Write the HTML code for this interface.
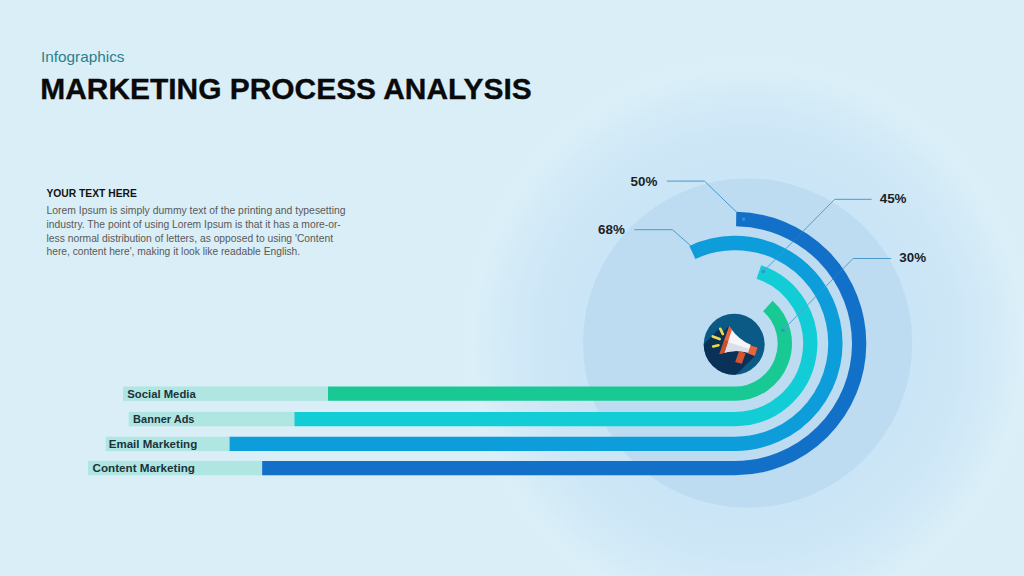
<!DOCTYPE html>
<html lang="en">
<head>
<meta charset="utf-8">
<title>Marketing Process Analysis</title>
<style>
  html, body { margin: 0; padding: 0; }
  body { width: 1024px; height: 576px; overflow: hidden; background: #d9eef6; font-family: "Liberation Sans", sans-serif; }
  svg { display: block; position: absolute; left: 0; top: 0; }
  text { font-family: "Liberation Sans", sans-serif; }
</style>
</head>
<body>
<svg width="1024" height="576" viewBox="0 0 1024 576">
  <defs>
    <radialGradient id="glow" gradientUnits="userSpaceOnUse" cx="748" cy="343" r="295">
      <stop offset="0" stop-color="#c8e3f6"/>
      <stop offset="0.56" stop-color="#cae5f6"/>
      <stop offset="0.72" stop-color="#cee7f7"/>
      <stop offset="0.84" stop-color="#d4ebf7"/>
      <stop offset="0.93" stop-color="#daeff8"/>
      <stop offset="1" stop-color="#d9eef6"/>
    </radialGradient>
    <clipPath id="iconclip"><circle cx="734.2" cy="344.3" r="30.5"/></clipPath>
  </defs>

  <!-- background -->
  <rect x="0" y="0" width="1024" height="576" fill="#d9eef6"/>
  <rect x="0" y="0" width="1024" height="576" fill="url(#glow)"/>
  <circle cx="747.65" cy="343.05" r="164.65" fill="#bddcf1"/>

  <!-- headings -->
  <text x="41" y="61.7" font-size="15" fill="#2b7f8c" textLength="83.5" lengthAdjust="spacingAndGlyphs">Infographics</text>
  <text x="40.3" y="99.3" font-size="29.7" font-weight="700" fill="#0a0a0a" stroke="#0a0a0a" stroke-width="0.35" textLength="491.5" lengthAdjust="spacingAndGlyphs">MARKETING PROCESS ANALYSIS</text>

  <!-- text block -->
  <text x="46.5" y="196.8" font-size="11.2" font-weight="700" fill="#111" textLength="90.3" lengthAdjust="spacingAndGlyphs">YOUR TEXT HERE</text>
  <g font-size="10.4" fill="#595959">
    <text x="46.5" y="214" textLength="299" lengthAdjust="spacingAndGlyphs">Lorem Ipsum is simply dummy text of the printing and typesetting</text>
    <text x="46.5" y="228" textLength="294.3" lengthAdjust="spacingAndGlyphs">industry. The point of using Lorem Ipsum is that it has a more-or-</text>
    <text x="46.5" y="241.6" textLength="286.5" lengthAdjust="spacingAndGlyphs">less normal distribution of letters, as opposed to using 'Content</text>
    <text x="46.5" y="255.2" textLength="253.6" lengthAdjust="spacingAndGlyphs">here, content here', making it look like readable English.</text>
  </g>

  <!-- label backgrounds -->
  <g fill="#b0e6e2">
    <rect x="123" y="386.5" width="206" height="14.4"/>
    <rect x="128.7" y="411.9" width="167" height="14.4"/>
    <rect x="105.8" y="436.7" width="125" height="14.4"/>
    <rect x="88" y="460.9" width="175" height="14.4"/>
  </g>

  <!-- bars + arcs (inner two) -->
  <g fill="none" stroke-width="14.3">
    <path d="M328.00 393.70H734.65A50.15 50.15 0 0 0 767.88 305.99" stroke="#19c994"/>
    <path d="M294.50 419.15H734.65A75.60 75.60 0 0 0 758.89 271.94" stroke="#13cdd6"/>
  </g>
  <!-- leader lines that run behind the outer arcs -->
  <g fill="none" stroke="#4b9bcc" stroke-width="1">
    <path d="M871.6 199.3H834.7L763.4 271.4"/>
    <path d="M891.2 258.5H853L782.9 330.2"/>
  </g>
  <g fill="#2f86cf" fill-opacity="0.75">
    <circle cx="763.4" cy="271.4" r="1.7"/>
    <circle cx="782.9" cy="330.2" r="1.7"/>
  </g>
  <!-- bars + arcs (outer two) -->
  <g fill="none" stroke-width="14.3">
    <path d="M229.60 443.80H734.65A100.4 100.4 0 1 0 692.38 252.48" stroke="#0d9ddb"/>
    <path d="M262.20 468.10H734.65A124.55 124.55 0 0 0 736.17 219.01" stroke="#1270c9"/>
  </g>
  <!-- faint trace of the lines over the outer arcs -->
  <g fill="none" stroke="#ffffff" stroke-opacity="0.07" stroke-width="1">
    <path d="M834.7 199.3L763.4 271.4"/>
    <path d="M853 258.5L782.9 330.2"/>
  </g>

  <!-- bar labels -->
  <g font-size="11" font-weight="700" fill="#1b323b" text-anchor="end">
    <text x="195.7" y="397.6" textLength="68.4" lengthAdjust="spacingAndGlyphs">Social Media</text>
    <text x="194.5" y="423" textLength="61.4" lengthAdjust="spacingAndGlyphs">Banner Ads</text>
    <text x="197.2" y="447.7" textLength="88.5" lengthAdjust="spacingAndGlyphs">Email Marketing</text>
    <text x="194.9" y="472" textLength="102.4" lengthAdjust="spacingAndGlyphs">Content Marketing</text>
  </g>

  <!-- leader lines (left) -->
  <g fill="none" stroke="#4b9bcc" stroke-width="1">
    <path d="M666.9 181.1H704.5L737 212.6"/>
    <path d="M634.3 229.7H672.4L690.6 245.6"/>
  </g>
  <circle cx="743.6" cy="219.1" r="1.6" fill="#4a9be0" fill-opacity="0.75"/>

  <!-- percentages -->
  <g font-size="13.4" font-weight="700" fill="#1a1f26">
    <text x="630.5" y="186.2">50%</text>
    <text x="598" y="233.9">68%</text>
    <text x="879.7" y="202.9">45%</text>
    <text x="899.3" y="262">30%</text>
  </g>

  <!-- megaphone icon -->
  <g>
    <circle cx="734.2" cy="344.3" r="30.5" fill="#0b5a86"/>
    <g clip-path="url(#iconclip)">
      <path d="M729.2 325.8L721.5 333.5L719.5 328.3L680 368L704.9 405.9L754.9 355.9L752 350L740 348L728 335Z" fill="#0a3158"/>
    </g>
    <!-- cone -->
    <path d="M731 328.8Q739 340 751 345L748.6 352.8Q736 349 724.3 352.8Z" fill="#f6f6fa"/>
    <path d="M727.5 342L749.8 349L748.6 352.8Q736 349 724.3 352.8Z" fill="#dcdfe8"/>
    <!-- rim -->
    <path d="M729.2 325.8L732 329.6L724.4 352.7L719.4 354.2Z" fill="#e8653b"/>
    <path d="M724.3 340.5L728.4 340.5L724.4 352.7L719.4 354.2Z" fill="#c9502d"/>
    <!-- back piece -->
    <path d="M750.4 345.6L757.4 347.4L754.9 355.9L748 353.6Z" fill="#e8653b"/>
    <!-- handle -->
    <path d="M739 351.2L745.7 353L741.9 363.7L735.2 362Z" fill="#d4562f"/>
    <!-- sparks -->
    <g stroke="#ecdc45" stroke-width="2.7" stroke-linecap="round">
      <path d="M720.3 328.8L722.8 334"/>
      <path d="M712.8 336.4L719.6 339"/>
      <path d="M713.2 346.5L718.4 345.3"/>
    </g>
  </g>
</svg>
</body>
</html>
